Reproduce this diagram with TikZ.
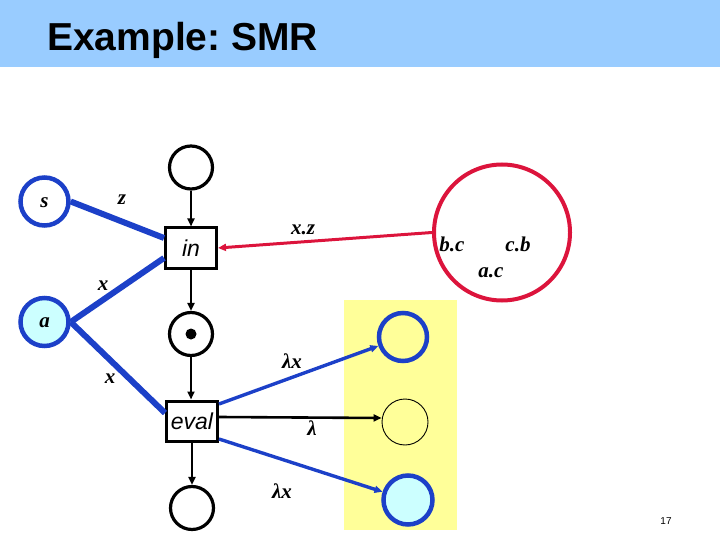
\documentclass[tikz,border=0pt]{standalone}
\usepackage{fontspec}
\setmainfont{Liberation Serif}
\newfontfamily\arialf{Liberation Sans}
\usetikzlibrary{arrows.meta}
\definecolor{hdr}{RGB}{153,204,255}
\definecolor{nblue}{RGB}{28,64,200}
\definecolor{lcyan}{RGB}{204,255,255}
\definecolor{lyel}{RGB}{255,255,153}
\definecolor{nred}{RGB}{220,20,60}
\frenchspacing
\tikzset{
  place/.style={circle, draw, line width=3.2pt, minimum size=43pt, inner sep=0pt},
  bplace/.style={circle, draw=nblue, line width=4.5pt, minimum size=48pt, inner sep=0pt},
  trans/.style={draw, line width=3pt, minimum width=51pt, minimum height=40pt, inner sep=0pt, fill=white,
    font=\arialf\itshape\fontsize{23}{23}\selectfont},
  lbl/.style={font=\bfseries\itshape\fontsize{21}{21}\selectfont, inner sep=0pt},
  thickblue/.style={draw=nblue, line width=6pt},
  barc/.style={draw=black, line width=2.6pt, -{Triangle[length=8pt,width=7pt]}},
  bluearc/.style={draw=nblue, line width=3.4pt, -{Triangle[length=8pt,width=7pt]}},
  redarc/.style={draw=nred, line width=3pt, -{Triangle[length=8pt,width=7pt]}},
}
\begin{document}
\begin{tikzpicture}[x=1pt,y=-1pt]
\useasboundingbox (0,0) rectangle (720,540);
\fill[hdr] (0,0) rectangle (720,67);
\node[anchor=base west, inner sep=0pt, font=\arialf\bfseries\fontsize{39}{39}\selectfont] (title) at (47,51) {Example: SMR};
\fill[lyel] (344,300) rectangle (457,530);

% places
\node[bplace, fill=white] (s) at (44.5,201.5) {};
\node[bplace, fill=lcyan] (a) at (44.5,322) {};
\node[place, fill=white] (top) at (191,167.5) {};
\node[trans] (in) at (191,248) {in};
\node[place, fill=white] (dot) at (191,334) {};
\fill (dot.center) circle[radius=5.5pt];
\node[trans] (eval) at (192,421) {eval};
\node[place, fill=white] (bot) at (192,508) {};
\node[bplace] (r1) at (403,337) {};
\node[circle, draw, line width=0.9pt, minimum size=46pt, inner sep=0pt] (r2) at (405,422) {};
\node[bplace, fill=lcyan, minimum size=49pt] (r3) at (408,500) {};
\node[circle, draw=nred, line width=4pt, minimum size=136pt, inner sep=0pt] (red) at (502,232.5) {};

% connectors
\draw[thickblue] (s.east) -- ([yshift=10pt]in.west);
\draw[thickblue] (a.east) -- ([yshift=-10pt]in.west);
\draw[thickblue] (a.east) -- ([yshift=8pt]eval.west);
\draw[barc] (top) -- (in);
\draw[barc] (in) -- (dot);
\draw[barc] (dot.south) -- (dot.south |- eval.north);
\draw[barc] (eval) -- (bot);
\draw[redarc] (red.west) -- (in.east);
\draw[bluearc] ([yshift=17pt]eval.east) -- (r1);
\draw[barc] ([yshift=4pt]eval.east) -- ([yshift=4pt]r2.west);
\draw[bluearc] ([yshift=-18pt]eval.east) -- (r3);

% labels
\node[lbl] (ls) at (44.5,203) {s};
\node[lbl] (la) at (44.5,323) {a};
\node[lbl] (lz) at (122,200) {z};
\node[lbl] (lxz) at (303,230) {x.z};
\node[lbl] (lbc) at (452,244) {b.c};
\node[lbl] (lcb) at (518,244) {c.b};
\node[lbl] (lac) at (491,273) {a.c};
\node[lbl] (lx1) at (103,286) {x};
\node[lbl] (lx2) at (110,379) {x};
\node[lbl] (ll1) at (292,361) {λx};
\node[lbl] (ll2) at (312,428) {λ};
\node[lbl] (ll3) at (282,491) {λx};
\node[font=\arialf\fontsize{10}{10}\selectfont, inner sep=0pt] (pg) at (666,521) {17};
\end{tikzpicture}
\end{document}
